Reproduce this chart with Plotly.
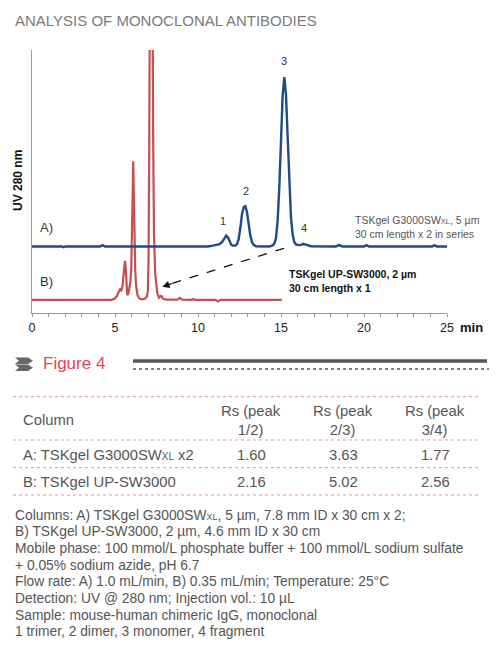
import plotly.graph_objects as go

# the page body keeps the browser's default 8px margin, so the figure is sized to fit inside it
WIN_W, WIN_H = 500, 655
OFF = 8
W, H = WIN_W - 2 * OFF, WIN_H - 2 * OFF

# ---------------- data ----------------
time_a = [0, 1.8, 1.9, 2.0, 4.1, 4.25, 4.4, 10.6, 10.9, 11.1,
          11.3, 11.45, 11.55, 11.62, 11.7, 11.8, 11.9, 12.0, 12.1, 12.25,
          12.35, 12.45, 12.55, 12.65, 12.75, 12.85, 12.95, 13.05, 13.15, 13.25,
          13.35, 13.5, 14.3, 14.5, 14.6, 14.7, 14.8, 14.9, 15.0, 15.1,
          15.2, 15.3, 15.4, 15.5, 15.6, 15.7, 15.8, 15.9, 16.05, 16.2,
          16.35, 16.5, 16.8, 18.3, 18.5, 18.7, 20.0, 20.15, 20.3, 24.1,
          24.25, 24.4, 25.0]
uv_a = [25.3, 25.3, 25.0, 25.3, 25.3, 25.8, 25.3, 25.3, 25.6, 25.9,
        26.2, 26.9, 28.0, 28.9, 29.4, 28.8, 27.4, 26.0, 25.6, 25.6,
        26.2, 28.1, 32.3, 37.6, 40.2, 40.6, 38.4, 33.6, 29.5, 27.0,
        25.9, 25.4, 25.3, 25.7, 26.4, 28.6, 35.3, 48.0, 65.8, 82.8,
        89.7, 83.0, 67.0, 49.5, 36.5, 29.8, 27.0, 26.1, 25.8, 25.9,
        26.3, 26.0, 25.4, 25.3, 25.8, 25.3, 25.3, 25.8, 25.3, 25.3,
        25.7, 25.3, 25.3]

time_b = [0, 4.8, 5.0, 5.12, 5.22, 5.3, 5.38, 5.46, 5.52, 5.57,
          5.6, 5.63, 5.68, 5.74, 5.8, 5.86, 5.92, 5.98, 6.03, 6.07,
          6.1, 6.13, 6.17, 6.22, 6.28, 6.35, 6.45, 6.6, 6.8, 6.92,
          6.98, 7.02, 7.06, 7.1, 7.18, 7.26, 7.3, 7.35, 7.42, 7.48,
          7.55, 7.65, 7.75, 7.82, 7.9, 8.1, 8.75, 8.9, 9.05, 9.6,
          9.7, 9.8, 11.05, 11.2, 11.35, 15.05]
uv_b = [5.0, 5.0, 5.5, 6.5, 8.0, 9.0, 8.6, 10.5, 15.0, 19.0,
        19.8, 18.5, 12.0, 6.8, 7.2, 9.0, 11.5, 17.0, 30.0, 47.0,
        57.7, 47.0, 30.0, 16.0, 10.0, 7.0, 5.6, 5.2, 5.4, 6.2,
        8.5, 20.0, 60.0, 130.0, 250.0, 130.0, 65.0, 30.0, 15.0, 10.0,
        7.5, 5.8, 6.5, 6.3, 5.4, 5.1, 5.1, 5.8, 5.1, 5.0,
        5.3, 5.0, 5.0, 4.4, 5.0, 5.0]

x_ticks = [0, 5, 10, 15, 20, 25]
peak_labels = ["1", "2", "3", "4"]
peak_label_x = [11.5, 12.87, 15.2, 16.4]
peak_label_y = [35.0, 46.2, 95.8, 32.5]

table_header = ["Column", "Rs (peak<br>1/2)", "Rs (peak<br>2/3)", "Rs (peak<br>3/4)"]
table_rows = ["A: TSKgel G3000SW<span style='font-size:10px'>XL</span> x2", "B: TSKgel UP-SW3000"]
rs_12 = ["1.60", "2.16"]
rs_23 = ["3.63", "5.02"]
rs_34 = ["1.77", "2.56"]

notes = [
    "Columns: A) TSKgel G3000SW<span style='font-size:9px'>XL</span>, 5 µm, 7.8 mm ID x 30 cm x 2;",
    "B) TSKgel UP-SW3000, 2 µm, 4.6 mm ID x 30 cm",
    "Mobile phase: 100 mmol/L phosphate buffer + 100 mmol/L sodium sulfate",
    "+ 0.05% sodium azide, pH 6.7",
    "Flow rate: A) 1.0 mL/min, B) 0.35 mL/min; Temperature: 25°C",
    "Detection: UV @ 280 nm; Injection vol.: 10 µL",
    "Sample: mouse-human chimeric IgG, monoclonal",
    "1 trimer, 2 dimer, 3 monomer, 4 fragment",
]

BLUE = "#1f4a8a"
RED = "#c84f4f"
GRAY = "#555555"
PINK = "#f28ca4"
FONT = "Liberation Sans, Arial, sans-serif"


def px(x):
    return (x - OFF) / W


def py(y):
    return 1 - (y - OFF) / H


fig = go.Figure()
fig.add_trace(go.Scatter(x=time_b, y=uv_b, mode="lines", line=dict(color=RED, width=2.2),
                         hoverinfo="skip", showlegend=False))
fig.add_trace(go.Scatter(x=time_a, y=uv_a, mode="lines", line=dict(color=BLUE, width=2.4),
                         hoverinfo="skip", showlegend=False))

ann = []


def A(**kw):
    kw.setdefault("showarrow", False)
    kw.setdefault("xanchor", "center")
    kw.setdefault("yanchor", "middle")
    ann.append(kw)


# chart labels
A(x=0.85, y=32.4, xref="x", yref="y", text="A)", font=dict(size=13, color="#333", family=FONT))
A(x=0.85, y=11.8, xref="x", yref="y", text="B)", font=dict(size=13, color="#333", family=FONT))
for lab, lx, ly in zip(peak_labels, peak_label_x, peak_label_y):
    A(x=lx, y=ly, xref="x", yref="y", text=lab, font=dict(size=11, color="#333", family=FONT))
A(x=19.35, y=32.8, xref="x", yref="y", xanchor="left", align="left",
  text="TSKgel G3000SW<span style='font-size:7.5px'>XL</span>, 5 µm<br>30 cm length x 2 in series",
  font=dict(size=10.5, color=GRAY, family=FONT))
A(x=15.36, y=12.3, xref="x", yref="y", xanchor="left", align="left",
  text="<b>TSKgel UP-SW3000, 2 µm<br>30 cm length x 1</b>",
  font=dict(size=10.5, color="#111", family=FONT))
# arrow head
ann.append(dict(x=7.85, y=10.0, xref="x", yref="y", ax=11, ay=-3.5, text="",
                showarrow=True, arrowhead=2, arrowsize=1.2, arrowwidth=1.2, arrowcolor="#111"))
# y title
A(x=px(18), y=py(181), xref="paper", yref="paper", text="<b>UV 280 nm</b>",
  textangle=-90, font=dict(size=12, color="#111", family=FONT))
# min
A(x=px(471), y=py(327), xref="paper", yref="paper", text="<b>min</b>",
  font=dict(size=13, color="#111", family=FONT))
# title
A(x=px(13), y=py(20), xref="paper", yref="paper", xanchor="left",
  text="ANALYSIS OF MONOCLONAL ANTIBODIES", font=dict(size=15, color="#7a7a7a", family=FONT))
# Figure 4
A(x=px(41), y=py(363), xref="paper", yref="paper", xanchor="left",
  text="Figure 4", font=dict(size=17, color="#e8434d", family=FONT))

# table
TF = dict(size=14.8, color=GRAY, family=FONT)
col_x = [21, 251, 343, 435]
A(x=px(col_x[0]), y=py(420), xref="paper", yref="paper", xanchor="left",
  text=table_header[0], font=TF)
for i in range(1, 4):
    A(x=px(col_x[i]), y=py(420), xref="paper", yref="paper",
      text=table_header[i], align="center", font=TF)
row_y = [455, 481.7]
for r in range(2):
    A(x=px(col_x[0]), y=py(row_y[r]), xref="paper", yref="paper", xanchor="left",
      text=table_rows[r], font=TF)
    for i, vals in enumerate([rs_12, rs_23, rs_34]):
        A(x=px(col_x[i + 1]), y=py(row_y[r]), xref="paper", yref="paper",
          text=vals[r], font=TF)

# notes
for k, line in enumerate(notes):
    A(x=px(13), y=py(515 + 16.67 * k), xref="paper", yref="paper", xanchor="left",
      text=line, font=dict(size=13.8, color=GRAY, family=FONT))

shapes = []
# dashed arrow line
shapes.append(dict(type="line", xref="x", yref="y", x0=15.18, y0=24.6, x1=8.1, y1=10.6,
                   line=dict(color="#111", width=1.3, dash="dash")))
# figure header bars
shapes.append(dict(type="line", xref="paper", yref="paper", x0=px(133), x1=px(487),
                   y0=py(361), y1=py(361), line=dict(color="#555", width=3.5)))
shapes.append(dict(type="line", xref="paper", yref="paper", x0=px(133), x1=px(489),
                   y0=py(369), y1=py(369), line=dict(color="#555", width=1.3, dash="dot")))


def chev(y0):
    pts = [(15, y0), (28, y0), (33, y0 + 3.3), (28, y0 + 6.6), (15, y0 + 6.6), (19, y0 + 3.3)]
    d = "M " + " L ".join(f"{px(a):.5f},{py(b):.5f}" for a, b in pts) + " Z"
    return dict(type="path", xref="paper", yref="paper", path=d,
                fillcolor="#666", line=dict(width=0))


shapes.append(chev(357.5))
shapes.append(chev(364.5))
# table dotted lines
for yy in [396.7, 440, 467.7, 495]:
    shapes.append(dict(type="line", xref="paper", yref="paper", x0=px(13), x1=px(480),
                       y0=py(yy), y1=py(yy), line=dict(color=PINK, width=1, dash="dot")))

fig.update_layout(
    template="none",
    width=W, height=H, margin=dict(l=0, r=0, t=0, b=0, pad=0, autoexpand=False),
    paper_bgcolor="white", plot_bgcolor="white",
    annotations=ann, shapes=shapes, showlegend=False,
    xaxis=dict(domain=[px(32), px(447)], range=[0, 25], showgrid=False, zeroline=False,
               automargin=False,
               showline=True, linecolor="#9a9a9a", linewidth=1,
               tickmode="array", tickvals=x_ticks, ticks="outside", ticklen=3,
               tickcolor="#9a9a9a", tickfont=dict(size=12.5, color="#222", family=FONT),
               minor=dict(dtick=1, ticks="outside", ticklen=3, tickcolor="#9a9a9a"),
               fixedrange=True),
    yaxis=dict(domain=[py(313), py(50)], range=[0, 100], showgrid=False, zeroline=False,
               automargin=False,
               showline=True, linecolor="#9a9a9a", linewidth=1, showticklabels=False,
               ticks="", fixedrange=True),
)

fig.write_html("out.html")
